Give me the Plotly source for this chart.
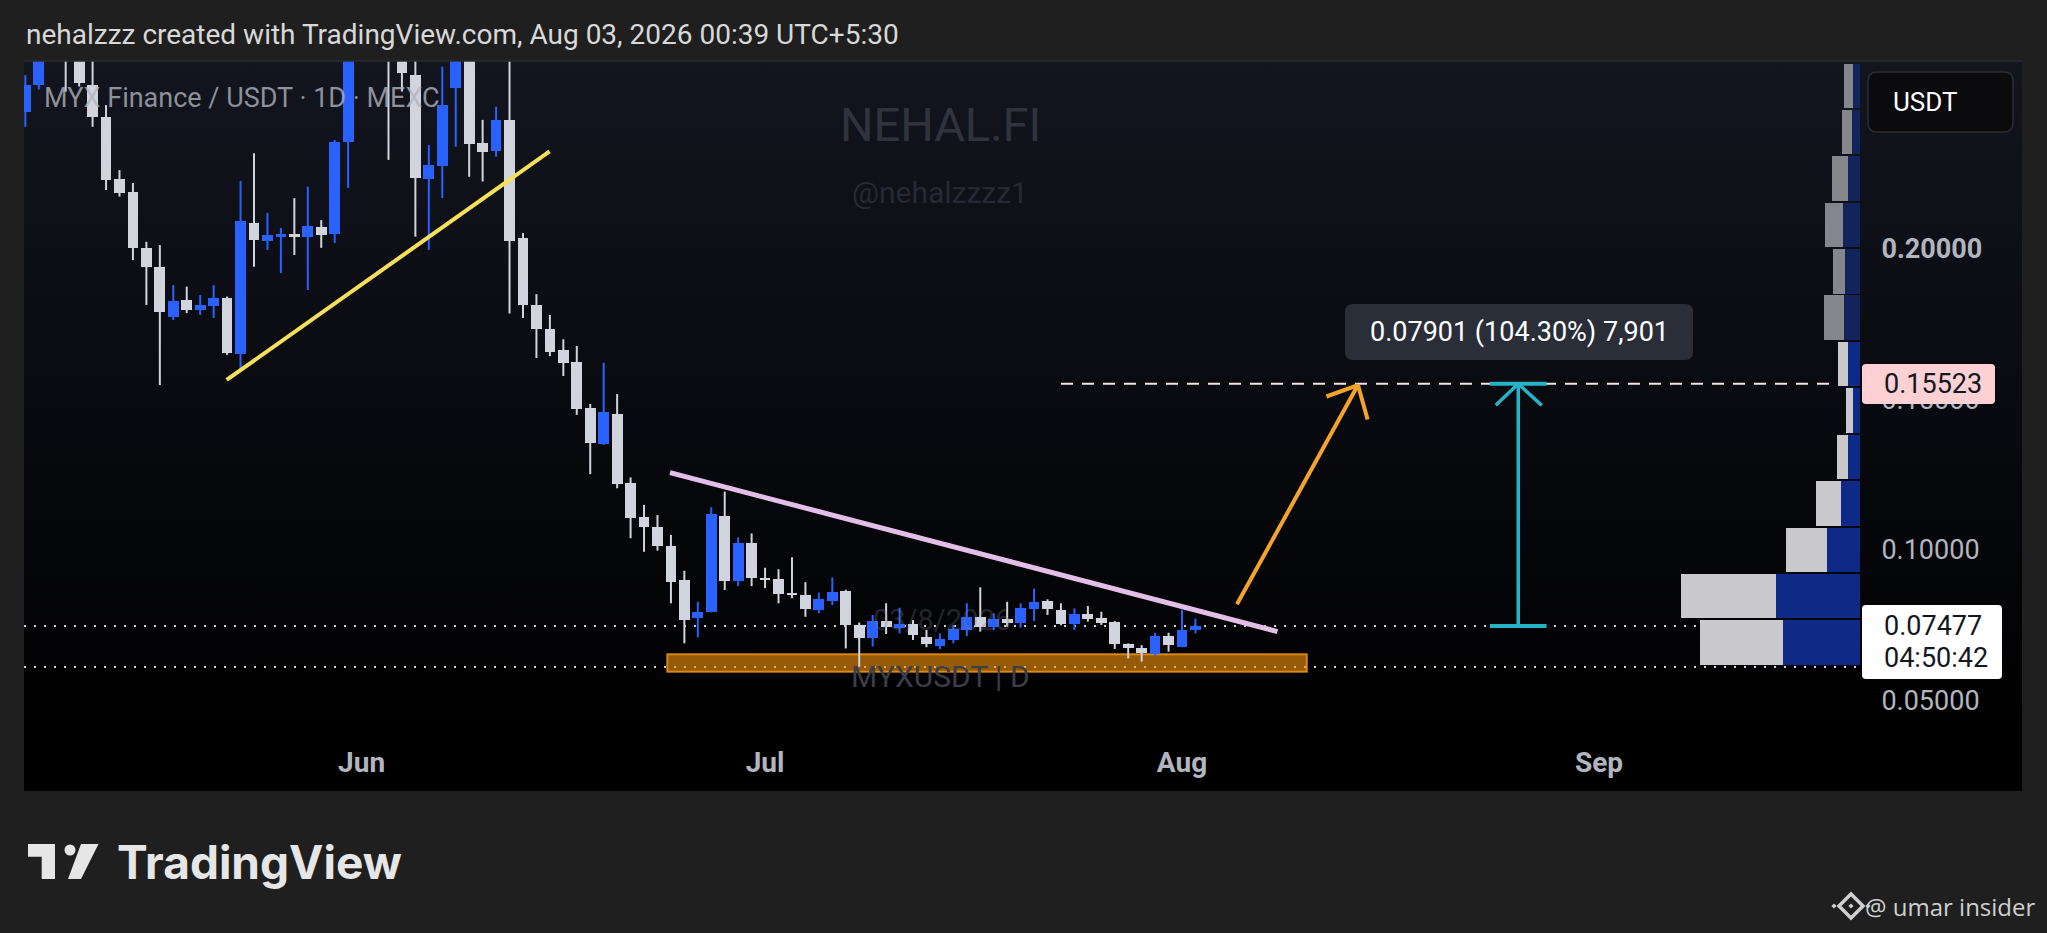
import base64
import pandas as pd
import plotly.graph_objects as go

# ---- candles (daily, MYX/USDT) ----
start_day = "2026-05-07"
opens = [0.2456, 0.2545, 0.2680, 0.2850, 0.2720, 0.2545, 0.2440, 0.2232, 0.2190, 0.2004,
         0.1941, 0.1775, 0.1831, 0.1797, 0.1812, 0.1838, 0.1651, 0.2087, 0.2027, 0.2040,
         0.2049, 0.2041, 0.2074, 0.2050, 0.2355, 0.2700, 0.2880, 0.2760, 0.2680, 0.2578,
         0.2232, 0.2277, 0.2534, 0.2700, 0.2351, 0.2326, 0.2429, 0.2036, 0.1814, 0.1734,
         0.1664, 0.1626, 0.1471, 0.1352, 0.1452, 0.1224, 0.1109, 0.1075, 0.1014, 0.0900,
         0.0773, 0.0795, 0.1113, 0.0898, 0.1022, 0.0908, 0.0903, 0.0858, 0.0850, 0.0801,
         0.0831, 0.0865, 0.0751, 0.0706, 0.0765, 0.0740, 0.0754, 0.0712, 0.0682, 0.0701,
         0.0733, 0.0776, 0.0743, 0.0771, 0.0759, 0.0804, 0.0830, 0.0801, 0.0754, 0.0787,
         0.0773, 0.0762, 0.0688, 0.0675, 0.0654, 0.0714, 0.0679, 0.0734]
highs = [0.2578, 0.2700, 0.2950, 0.2900, 0.2760, 0.2640, 0.2478, 0.2262, 0.2219, 0.2024,
         0.2013, 0.1880, 0.1875, 0.1847, 0.1880, 0.1842, 0.2226, 0.2318, 0.2120, 0.2070,
         0.2169, 0.2207, 0.2096, 0.2362, 0.2760, 0.3000, 0.2950, 0.2820, 0.2700, 0.2650,
         0.2346, 0.2606, 0.2750, 0.2720, 0.2429, 0.2473, 0.2650, 0.2053, 0.1850, 0.1781,
         0.1700, 0.1678, 0.1485, 0.1622, 0.1518, 0.1241, 0.1150, 0.1116, 0.1050, 0.0931,
         0.0828, 0.1142, 0.1194, 0.1042, 0.1055, 0.0941, 0.0936, 0.0976, 0.0893, 0.0858,
         0.0909, 0.0868, 0.0759, 0.0784, 0.0823, 0.0808, 0.0767, 0.0734, 0.0723, 0.0751,
         0.0823, 0.0876, 0.0790, 0.0828, 0.0823, 0.0872, 0.0836, 0.0823, 0.0806, 0.0814,
         0.0795, 0.0764, 0.0690, 0.0684, 0.0725, 0.0725, 0.0801, 0.0772]
lows = [0.2406, 0.2530, 0.2660, 0.2523, 0.2540, 0.2406, 0.2196, 0.2174, 0.1963, 0.1814,
        0.1548, 0.1764, 0.1787, 0.1781, 0.1771, 0.1648, 0.1598, 0.1941, 0.1997, 0.1920,
        0.1980, 0.1864, 0.2004, 0.2020, 0.2203, 0.2650, 0.2660, 0.2296, 0.2523, 0.2041,
        0.1997, 0.2169, 0.2340, 0.2240, 0.2224, 0.2307, 0.1786, 0.1771, 0.1638, 0.1644,
        0.1578, 0.1449, 0.1252, 0.1349, 0.1205, 0.1039, 0.0994, 0.0998, 0.0823, 0.0690,
        0.0710, 0.0793, 0.0867, 0.0880, 0.0880, 0.0873, 0.0823, 0.0840, 0.0778, 0.0790,
        0.0817, 0.0673, 0.0612, 0.0679, 0.0721, 0.0723, 0.0701, 0.0677, 0.0671, 0.0690,
        0.0714, 0.0729, 0.0734, 0.0745, 0.0742, 0.0764, 0.0784, 0.0750, 0.0734, 0.0762,
        0.0751, 0.0671, 0.0640, 0.0629, 0.0649, 0.0662, 0.0677, 0.0723]
closes = [0.2545, 0.2680, 0.2850, 0.2720, 0.2551, 0.2440, 0.2229, 0.2186, 0.2004, 0.1941,
          0.1790, 0.1827, 0.1797, 0.1814, 0.1838, 0.1653, 0.2093, 0.2030, 0.2047, 0.2050,
          0.2041, 0.2077, 0.2047, 0.2355, 0.2700, 0.2880, 0.2760, 0.2680, 0.2585, 0.2235,
          0.2279, 0.2478, 0.2700, 0.2348, 0.2323, 0.2429, 0.2027, 0.1814, 0.1734, 0.1659,
          0.1622, 0.1467, 0.1354, 0.1460, 0.1218, 0.1107, 0.1075, 0.1014, 0.0895, 0.0767,
          0.0795, 0.1120, 0.0898, 0.1024, 0.0906, 0.0903, 0.0854, 0.0850, 0.0803, 0.0836,
          0.0859, 0.0751, 0.0707, 0.0765, 0.0743, 0.0754, 0.0718, 0.0688, 0.0704, 0.0738,
          0.0776, 0.0745, 0.0770, 0.0756, 0.0808, 0.0828, 0.0804, 0.0754, 0.0786, 0.0771,
          0.0758, 0.0688, 0.0675, 0.0657, 0.0714, 0.0684, 0.0734, 0.07477]
dates = pd.date_range(start_day, periods=len(opens), freq="D")

# ---- visible range volume profile (bins bottom -> top) ----
vp_price = [0.0693, 0.0847, 0.1000, 0.1154, 0.1309, 0.1463, 0.1618,
            0.1772, 0.1925, 0.2080, 0.2234, 0.2388, 0.2541]
vp_up = [7.66, 8.43, 3.26, 1.93, 1.20, 0.70, 1.16, 1.56, 1.50, 1.66, 1.23, 0.76, 0.66]
vp_down = [8.34, 9.43, 4.10, 2.43, 1.13, 0.73, 1.04, 2.07, 1.20, 1.84, 1.60, 1.07, 0.97]
value_area_rows = 7

# ---- levels / drawings ----
last_price = 0.07477
low_level = 0.0611
target_price = 0.15523
price_ticks = [0.05, 0.10, 0.15, 0.20]
price_ticktext = ["0.05000", "0.10000", "0.15000", "<b>0.20000</b>"]
month_ticks = ["2026-06-01", "2026-07-01", "2026-08-01", "2026-09-01"]
month_text = ["<b>Jun</b>", "<b>Jul</b>", "<b>Aug</b>", "<b>Sep</b>"]

UP = "#2962ff"
DOWN = "#d1d4dc"
W, H = 2047, 933
L, R, T, B = 24, 1860, 61, 735


def px(x):
    return (x - L) / (R - L)


def py(y):
    return (B - y) / (B - T)


def rrect(x0, y0, x1, y1, r):
    # rounded rect path in paper coords from pixel coords
    pts = [
        f"M{px(x0 + r)},{py(y0)}", f"L{px(x1 - r)},{py(y0)}",
        f"Q{px(x1)},{py(y0)} {px(x1)},{py(y0 + r)}", f"L{px(x1)},{py(y1 - r)}",
        f"Q{px(x1)},{py(y1)} {px(x1 - r)},{py(y1)}", f"L{px(x0 + r)},{py(y1)}",
        f"Q{px(x0)},{py(y1)} {px(x0)},{py(y1 - r)}", f"L{px(x0)},{py(y0 + r)}",
        f"Q{px(x0)},{py(y0)} {px(x0 + r)},{py(y0)}", "Z",
    ]
    return " ".join(pts)


def poly(points):
    return "M" + " L".join(f"{px(a)},{py(b)}" for a, b in points) + " Z"


fig = go.Figure()

# wicks
for up in (True, False):
    wx, wy = [], []
    for d, o, h, l, c in zip(dates, opens, highs, lows, closes):
        if (c >= o) == up:
            wx += [d, d, None]
            wy += [l, h, None]
    fig.add_trace(go.Scatter(x=wx, y=wy, mode="lines", line=dict(color=UP if up else DOWN, width=2),
                             hoverinfo="skip", showlegend=False))

# bodies
body_h = [max(abs(c - o), 0.0004) for o, c in zip(opens, closes)]
body_b = [min(o, c) for o, c in zip(opens, closes)]
body_c = [UP if c >= o else DOWN for o, c in zip(opens, closes)]
fig.add_trace(go.Bar(x=dates, y=body_h, base=body_b, width=0.8 * 86400000,
                     marker=dict(color=body_c, line_width=0), showlegend=False))

# volume profile
n = len(vp_price)
up_col = ["#0e2a86" if i < value_area_rows else "#12245a" for i in range(n)]
dn_col = ["#c9c9cc" if i < value_area_rows else "#84868c" for i in range(n)]
fig.add_trace(go.Bar(y=vp_price, x=vp_up, base=[0] * n, orientation="h", xaxis="x2",
                     width=0.0148, marker=dict(color=up_col, line_width=0), showlegend=False))
fig.add_trace(go.Bar(y=vp_price, x=vp_down, base=vp_up, orientation="h", xaxis="x2",
                     width=0.0148, marker=dict(color=dn_col, line_width=0), showlegend=False))

shapes = []
# top border of panel
shapes.append(dict(type="line", xref="paper", yref="paper", x0=px(24), x1=px(2022), y0=py(61), y1=py(61),
                   line=dict(color="#2b2b2f", width=1.5)))
# support box
shapes.append(dict(type="rect", xref="x", yref="y", x0="2026-06-23 17:30", x1="2026-08-10 06:40",
                   y0=0.05957, y1=0.06535, fillcolor="rgba(240,145,10,0.62)",
                   line=dict(color="rgba(255,160,30,0.75)", width=2), layer="below"))
# dotted levels
for lv in (last_price, low_level):
    shapes.append(dict(type="line", xref="paper", yref="y", x0=0, x1=1, y0=lv, y1=lv,
                       line=dict(color="#cfd0d4", width=2, dash="2px,8px"), layer="below"))
# rising trendline
shapes.append(dict(type="line", xref="x", yref="y", x0="2026-05-21 23:15", y0=0.1565,
                   x1="2026-06-14 23:30", y1=0.2324, line=dict(color="#f6e05a", width=4)))
# falling trendline
shapes.append(dict(type="line", xref="x", yref="y", x0="2026-06-23 22:20", y0=0.1257,
                   x1="2026-08-08 02:20", y1=0.0729, line=dict(color="#e3bfe8", width=5)))
# target dashed line
shapes.append(dict(type="line", xref="x", yref="y", x0="2026-07-23", x1="2026-09-18 03:30",
                   y0=target_price, y1=target_price, line=dict(color="#f2e4e4", width=2, dash="12px,9px")))
# orange arrow shaft
shapes.append(dict(type="line", xref="x", yref="y", x0="2026-08-05 02:00", y0=0.08196,
                   x1="2026-08-14 02:00", y1=0.1548, line=dict(color="#f5a32a", width=4)))
# price range (cyan)
CY = "#27b3c6"
shapes.append(dict(type="line", xref="x", yref="y", x0="2026-08-26", x1="2026-08-26",
                   y0=last_price, y1=target_price, line=dict(color=CY, width=3.5)))
for lv in (last_price, target_price):
    shapes.append(dict(type="line", xref="x", yref="y", x0="2026-08-23 21:30", x1="2026-08-28 02:30",
                       y0=lv, y1=lv, line=dict(color=CY, width=4)))
# measure label box
shapes.append(dict(type="path", xref="paper", yref="paper", path=rrect(1345, 304, 1693, 360, 8),
                   fillcolor="#2a2e39", line=dict(width=0)))
# price axis boxes
shapes.append(dict(type="path", xref="paper", yref="paper", path=rrect(1868, 72, 2013, 132, 9),
                   fillcolor="#0b0b0d", line=dict(color="#2c2d32", width=1.5)))
shapes.append(dict(type="path", xref="paper", yref="paper", path=rrect(1862, 364, 1995, 404, 4),
                   fillcolor="#fdd0d4", line=dict(width=0)))
shapes.append(dict(type="path", xref="paper", yref="paper", path=rrect(1862, 605, 2002, 679, 4),
                   fillcolor="#ffffff", line=dict(width=0)))
# TradingView logo mark
LOGO = "#e6e6e6"
shapes.append(dict(type="path", xref="paper", yref="paper", fillcolor=LOGO, line=dict(width=0),
                   path=poly([(28, 844), (55, 844), (55, 879), (41.7, 879), (41.7, 856.7), (28, 856.7)])))
shapes.append(dict(type="path", xref="paper", yref="paper", fillcolor=LOGO, line=dict(width=0),
                   path=poly([(81, 844), (98.5, 844), (81, 879), (68, 879)])))
shapes.append(dict(type="circle", xref="paper", yref="paper", x0=px(64.5), x1=px(75.5),
                   y0=py(844.5), y1=py(855.5), fillcolor=LOGO, line=dict(width=0)))
# small diamond icon next to the credit
IC = "#cfcfcf"
cx, cy_ = 1851, 906
shapes.append(dict(type="path", xref="paper", yref="paper", line=dict(color=IC, width=3.5),
                   path=poly([(cx, cy_ - 12), (cx + 12, cy_), (cx, cy_ + 12), (cx - 12, cy_)])))
for ox in (-17, 0, 17):
    s = 2.6
    shapes.append(dict(type="path", xref="paper", yref="paper", fillcolor=IC, line=dict(width=0),
                       path=poly([(cx + ox, cy_ - s), (cx + ox + s, cy_), (cx + ox, cy_ + s),
                                  (cx + ox - s, cy_)])))

ann = []


def txt(x, y, s, size, color, xa="left", bold=False, family="Roboto"):
    ann.append(dict(x=px(x), y=py(y), xref="paper", yref="paper", text=f"<b>{s}</b>" if bold else s,
                    showarrow=False, xanchor=xa, yanchor="middle",
                    font=dict(family=family, size=size, color=color)))


txt(23.5, 35, "nehalzzz created with TradingView.com, Aug 03, 2026 00:39 UTC+5:30", 28, "#d8d8d8")
txt(42, 98, "MYX Finance / USDT · 1D · MEXC", 27, "rgba(178,181,190,0.78)")
txt(940, 125, "NEHAL.FI", 47, "#30333d", "center")
txt(940, 192, "@nehalzzzz1", 30, "#262933", "center")
txt(942, 620, "03/8/2026", 29, "rgba(120,123,134,0.3)", "center")
txt(940, 676, "MYXUSDT | D", 30, "#3b3e48", "center")
txt(1519, 332, "0.07901 (104.30%) 7,901", 27, "#ffffff", "center")
txt(1891, 102, "USDT", 26, "#ffffff")
txt(1882, 384, "0.15523", 27, "#131722")
txt(1882, 626, "0.07477", 27, "#131722")
txt(1882, 658, "04:50:42", 27, "#131722")
txt(115, 862, "TradingView", 46, LOGO, bold=True, family="Inter")
txt(2038, 906, "@ umar insider", 24, IC, "right", family="Open Sans")

# arrow heads as short strokes ending at the tips
for dx, dy in ((-33, 12), (10, 36)):
    ann.append(dict(x="2026-08-14 02:00", y=0.1548, xref="x", yref="y", ax=dx, ay=dy, text="",
                    showarrow=True, arrowhead=0, arrowwidth=4, arrowcolor="#f5a32a", standoff=0))
for dx, dy in ((-24, 23), (25, 23)):
    ann.append(dict(x="2026-08-26", y=target_price, xref="x", yref="y", ax=dx, ay=dy, text="",
                    showarrow=True, arrowhead=0, arrowwidth=3.5, arrowcolor=CY, standoff=0))

svg = ("<svg xmlns='http://www.w3.org/2000/svg' width='100' height='100' preserveAspectRatio='none'>"
       "<defs><linearGradient id='g' x1='0' y1='0' x2='0' y2='1'>"
       "<stop offset='0' stop-color='#13151f'/><stop offset='0.93' stop-color='#000000'/>"
       "</linearGradient></defs><rect width='100' height='100' fill='url(#g)'/></svg>")
bg_src = "data:image/svg+xml;base64," + base64.b64encode(svg.encode()).decode()

fig.update_layout(
    width=W, height=H,
    margin=dict(l=L, r=W - R, t=T, b=H - B),
    paper_bgcolor="#1f1f1f", plot_bgcolor="rgba(0,0,0,0)",
    barmode="overlay", bargap=0, showlegend=False,
    images=[dict(source=bg_src, xref="paper", yref="paper", x=px(24), y=py(61),
                 sizex=px(2022) - px(24), sizey=py(61) - py(791), xanchor="left", yanchor="top",
                 sizing="stretch", layer="below")],
    shapes=shapes, annotations=ann,
    xaxis=dict(type="date", range=["2026-05-06 21:36", "2026-09-20 09:50"], showgrid=False,
               zeroline=False, showline=False, tickvals=month_ticks, ticktext=month_text,
               ticks="outside", ticklen=2, tickcolor="rgba(0,0,0,0)",
               tickfont=dict(family="Roboto", size=28, color="#b2b5be")),
    xaxis2=dict(overlaying="x", range=[183.6, 0], visible=False, anchor="y"),
    yaxis=dict(range=[0.038538, 0.262458], side="right", showgrid=False, zeroline=False,
               tickvals=price_ticks, ticktext=price_ticktext, ticks="outside", ticklen=15,
               tickcolor="rgba(0,0,0,0)", tickfont=dict(family="Roboto", size=27, color="#b2b5be")),
)

fig.write_html("out.html", config={"displayModeBar": False},
               post_script="document.body.style.margin='0';")
